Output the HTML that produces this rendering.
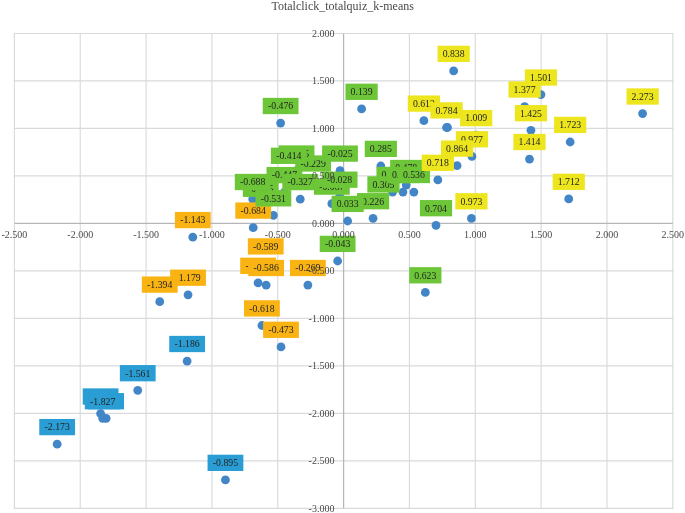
<!DOCTYPE html>
<html><head><meta charset="utf-8"><title>Totalclick_totalquiz_k-means</title>
<style>html,body{margin:0;padding:0;background:#fff;}svg{display:block;}text{font-family:"Liberation Serif","Times New Roman",serif;}</style></head><body>
<svg width="685" height="513" viewBox="0 0 685 513">
<rect x="0" y="0" width="685" height="513" fill="#ffffff"/>
<g stroke="#d8dadc" stroke-width="1.15" fill="none">
<line x1="14.40" y1="33.45" x2="14.40" y2="508.30"/>
<line x1="80.24" y1="33.45" x2="80.24" y2="508.30"/>
<line x1="146.08" y1="33.45" x2="146.08" y2="508.30"/>
<line x1="211.92" y1="33.45" x2="211.92" y2="508.30"/>
<line x1="277.76" y1="33.45" x2="277.76" y2="508.30"/>
<line x1="409.44" y1="33.45" x2="409.44" y2="508.30"/>
<line x1="475.28" y1="33.45" x2="475.28" y2="508.30"/>
<line x1="541.12" y1="33.45" x2="541.12" y2="508.30"/>
<line x1="606.96" y1="33.45" x2="606.96" y2="508.30"/>
<line x1="672.80" y1="33.45" x2="672.80" y2="508.30"/>
<line x1="13.80" y1="33.45" x2="673.40" y2="33.45"/>
<line x1="13.80" y1="80.94" x2="673.40" y2="80.94"/>
<line x1="13.80" y1="128.42" x2="673.40" y2="128.42"/>
<line x1="13.80" y1="175.91" x2="673.40" y2="175.91"/>
<line x1="13.80" y1="270.88" x2="673.40" y2="270.88"/>
<line x1="13.80" y1="318.36" x2="673.40" y2="318.36"/>
<line x1="13.80" y1="365.85" x2="673.40" y2="365.85"/>
<line x1="13.80" y1="413.33" x2="673.40" y2="413.33"/>
<line x1="13.80" y1="460.82" x2="673.40" y2="460.82"/>
<line x1="13.80" y1="508.30" x2="673.40" y2="508.30"/>
</g>
<g stroke="#b4b6b8" stroke-width="1.25" fill="none">
<line x1="343.60" y1="33.45" x2="343.60" y2="508.30"/>
<line x1="14.40" y1="223.40" x2="672.80" y2="223.40"/>
</g>
<g fill="#4386c7">
<circle cx="192.79" cy="237.20" r="4.4"/>
<circle cx="253.23" cy="227.70" r="4.4"/>
<circle cx="265.74" cy="263.50" r="4.4"/>
<circle cx="258.10" cy="282.90" r="4.4"/>
<circle cx="266.14" cy="285.10" r="4.4"/>
<circle cx="307.88" cy="285.10" r="4.4"/>
<circle cx="188.05" cy="294.80" r="4.4"/>
<circle cx="159.74" cy="301.70" r="4.4"/>
<circle cx="261.92" cy="325.50" r="4.4"/>
<circle cx="281.02" cy="346.90" r="4.4"/>
<circle cx="187.13" cy="361.10" r="4.4"/>
<circle cx="137.75" cy="390.30" r="4.4"/>
<circle cx="100.61" cy="413.60" r="4.4"/>
<circle cx="106.14" cy="418.30" r="4.4"/>
<circle cx="102.72" cy="418.30" r="4.4"/>
<circle cx="57.16" cy="444.20" r="4.4"/>
<circle cx="225.45" cy="479.95" r="4.4"/>
<circle cx="280.62" cy="123.10" r="4.4"/>
<circle cx="361.60" cy="108.90" r="4.4"/>
<circle cx="380.83" cy="166.00" r="4.4"/>
<circle cx="313.15" cy="180.60" r="4.4"/>
<circle cx="296.55" cy="170.60" r="4.4"/>
<circle cx="288.78" cy="172.90" r="4.4"/>
<circle cx="340.01" cy="170.70" r="4.4"/>
<circle cx="284.44" cy="192.20" r="4.4"/>
<circle cx="260.74" cy="205.90" r="4.4"/>
<circle cx="252.70" cy="199.10" r="4.4"/>
<circle cx="300.24" cy="199.20" r="4.4"/>
<circle cx="273.38" cy="215.40" r="4.4"/>
<circle cx="331.84" cy="203.70" r="4.4"/>
<circle cx="339.61" cy="196.80" r="4.4"/>
<circle cx="373.06" cy="218.30" r="4.4"/>
<circle cx="347.65" cy="221.00" r="4.4"/>
<circle cx="406.24" cy="185.10" r="4.4"/>
<circle cx="392.55" cy="192.10" r="4.4"/>
<circle cx="383.46" cy="201.50" r="4.4"/>
<circle cx="402.95" cy="192.10" r="4.4"/>
<circle cx="413.88" cy="192.10" r="4.4"/>
<circle cx="436.00" cy="225.30" r="4.4"/>
<circle cx="425.34" cy="292.40" r="4.4"/>
<circle cx="337.64" cy="261.00" r="4.4"/>
<circle cx="453.65" cy="70.95" r="4.4"/>
<circle cx="423.89" cy="120.70" r="4.4"/>
<circle cx="446.54" cy="127.50" r="4.4"/>
<circle cx="476.17" cy="135.20" r="4.4"/>
<circle cx="471.95" cy="156.40" r="4.4"/>
<circle cx="457.07" cy="165.70" r="4.4"/>
<circle cx="437.85" cy="179.90" r="4.4"/>
<circle cx="540.95" cy="94.60" r="4.4"/>
<circle cx="524.62" cy="106.60" r="4.4"/>
<circle cx="530.94" cy="130.30" r="4.4"/>
<circle cx="529.50" cy="159.10" r="4.4"/>
<circle cx="570.18" cy="142.00" r="4.4"/>
<circle cx="642.61" cy="113.60" r="4.4"/>
<circle cx="568.74" cy="198.90" r="4.4"/>
<circle cx="471.42" cy="218.40" r="4.4"/>
<circle cx="447.54" cy="127.50" r="4.4"/>
</g>
<g font-size="10.2" text-anchor="middle" fill="#222222">
<rect x="174.89" y="211.95" width="35.8" height="16.3" fill="#f9b313"/>
<text transform="translate(192.79 223.45) scale(0.96 1)">-1.143</text>
<rect x="235.33" y="202.45" width="35.8" height="16.3" fill="#f9b313"/>
<text transform="translate(253.23 213.95) scale(0.96 1)">-0.684</text>
<rect x="247.84" y="238.25" width="35.8" height="16.3" fill="#f9b313"/>
<text transform="translate(265.74 249.75) scale(0.96 1)">-0.589</text>
<rect x="240.20" y="257.65" width="35.8" height="16.3" fill="#f9b313"/>
<text transform="translate(258.10 269.15) scale(0.96 1)">-0.647</text>
<rect x="248.24" y="259.85" width="35.8" height="16.3" fill="#f9b313"/>
<text transform="translate(266.14 271.35) scale(0.96 1)">-0.586</text>
<rect x="289.98" y="259.85" width="35.8" height="16.3" fill="#f9b313"/>
<text transform="translate(307.88 271.35) scale(0.96 1)">-0.269</text>
<rect x="170.15" y="269.55" width="35.8" height="16.3" fill="#f9b313"/>
<text transform="translate(189.68 281.05) scale(0.96 1)">1.179</text>
<rect x="141.84" y="276.45" width="35.8" height="16.3" fill="#f9b313"/>
<text transform="translate(159.74 287.95) scale(0.96 1)">-1.394</text>
<rect x="244.02" y="300.25" width="35.8" height="16.3" fill="#f9b313"/>
<text transform="translate(261.92 311.75) scale(0.96 1)">-0.618</text>
<rect x="263.12" y="321.65" width="35.8" height="16.3" fill="#f9b313"/>
<text transform="translate(281.02 333.15) scale(0.96 1)">-0.473</text>
<rect x="169.23" y="335.85" width="35.8" height="16.3" fill="#2a9ed4"/>
<text transform="translate(187.13 347.35) scale(0.96 1)">-1.186</text>
<rect x="119.85" y="365.05" width="35.8" height="16.3" fill="#2a9ed4"/>
<text transform="translate(137.75 376.55) scale(0.96 1)">-1.561</text>
<rect x="82.71" y="388.35" width="35.8" height="16.3" fill="#2a9ed4"/>
<text transform="translate(100.61 399.85) scale(0.96 1)">-1.843</text>
<rect x="88.24" y="393.05" width="35.8" height="16.3" fill="#2a9ed4"/>
<text transform="translate(106.14 404.55) scale(0.96 1)">-1.801</text>
<rect x="84.82" y="393.05" width="35.8" height="16.3" fill="#2a9ed4"/>
<text transform="translate(102.72 404.55) scale(0.96 1)">-1.827</text>
<rect x="39.26" y="418.95" width="35.8" height="16.3" fill="#2a9ed4"/>
<text transform="translate(57.16 430.45) scale(0.96 1)">-2.173</text>
<rect x="207.55" y="454.70" width="35.8" height="16.3" fill="#2a9ed4"/>
<text transform="translate(225.45 466.20) scale(0.96 1)">-0.895</text>
<rect x="262.72" y="97.85" width="35.8" height="16.3" fill="#6cc638"/>
<text transform="translate(280.62 109.35) scale(0.96 1)">-0.476</text>
<rect x="345.50" y="83.65" width="32.2" height="16.3" fill="#6cc638"/>
<text transform="translate(361.60 95.15) scale(0.96 1)">0.139</text>
<rect x="364.73" y="140.75" width="32.2" height="16.3" fill="#6cc638"/>
<text transform="translate(380.83 152.25) scale(0.96 1)">0.285</text>
<rect x="295.25" y="155.35" width="35.8" height="16.3" fill="#6cc638"/>
<text transform="translate(313.15 166.85) scale(0.96 1)">-0.229</text>
<rect x="278.65" y="145.35" width="35.8" height="16.3" fill="#6cc638"/>
<text transform="translate(296.55 156.85) scale(0.96 1)">-0.355</text>
<rect x="270.88" y="147.65" width="35.8" height="16.3" fill="#6cc638"/>
<text transform="translate(288.78 159.15) scale(0.96 1)">-0.414</text>
<rect x="322.11" y="145.45" width="35.8" height="16.3" fill="#6cc638"/>
<text transform="translate(340.01 156.95) scale(0.96 1)">-0.025</text>
<rect x="266.54" y="166.95" width="35.8" height="16.3" fill="#6cc638"/>
<text transform="translate(284.44 178.45) scale(0.96 1)">-0.447</text>
<rect x="242.84" y="180.65" width="35.8" height="16.3" fill="#6cc638"/>
<text transform="translate(260.74 192.15) scale(0.96 1)">-0.625</text>
<rect x="234.80" y="173.85" width="35.8" height="16.3" fill="#6cc638"/>
<text transform="translate(252.70 185.35) scale(0.96 1)">-0.688</text>
<rect x="282.34" y="173.95" width="35.8" height="16.3" fill="#6cc638"/>
<text transform="translate(300.24 185.45) scale(0.96 1)">-0.327</text>
<rect x="255.48" y="190.15" width="35.8" height="16.3" fill="#6cc638"/>
<text transform="translate(273.38 201.65) scale(0.96 1)">-0.531</text>
<rect x="313.94" y="178.45" width="35.8" height="16.3" fill="#6cc638"/>
<text transform="translate(331.84 189.95) scale(0.96 1)">-0.087</text>
<rect x="321.71" y="171.55" width="35.8" height="16.3" fill="#6cc638"/>
<text transform="translate(339.61 183.05) scale(0.96 1)">-0.028</text>
<rect x="356.96" y="193.05" width="32.2" height="16.3" fill="#6cc638"/>
<text transform="translate(373.06 204.55) scale(0.96 1)">0.226</text>
<rect x="331.55" y="195.75" width="32.2" height="16.3" fill="#6cc638"/>
<text transform="translate(347.65 207.25) scale(0.96 1)">0.033</text>
<rect x="390.14" y="159.85" width="32.2" height="16.3" fill="#6cc638"/>
<text transform="translate(406.24 171.35) scale(0.96 1)">0.478</text>
<rect x="376.45" y="166.85" width="32.2" height="16.3" fill="#6cc638"/>
<text transform="translate(392.55 178.35) scale(0.96 1)">0.374</text>
<rect x="367.36" y="176.25" width="32.2" height="16.3" fill="#6cc638"/>
<text transform="translate(383.46 187.75) scale(0.96 1)">0.305</text>
<rect x="386.85" y="166.85" width="32.2" height="16.3" fill="#6cc638"/>
<text transform="translate(402.95 178.35) scale(0.96 1)">0.447</text>
<rect x="397.78" y="166.85" width="32.2" height="16.3" fill="#6cc638"/>
<text transform="translate(413.88 178.35) scale(0.96 1)">0.536</text>
<rect x="419.90" y="200.05" width="32.2" height="16.3" fill="#6cc638"/>
<text transform="translate(436.00 211.55) scale(0.96 1)">0.704</text>
<rect x="409.24" y="267.15" width="32.2" height="16.3" fill="#6cc638"/>
<text transform="translate(425.34 278.65) scale(0.96 1)">0.623</text>
<rect x="319.74" y="235.75" width="35.8" height="16.3" fill="#6cc638"/>
<text transform="translate(337.64 247.25) scale(0.96 1)">-0.043</text>
<rect x="437.55" y="45.70" width="32.2" height="16.3" fill="#ede61e"/>
<text transform="translate(453.65 57.20) scale(0.96 1)">0.838</text>
<rect x="407.79" y="95.45" width="32.2" height="16.3" fill="#ede61e"/>
<text transform="translate(423.89 106.95) scale(0.96 1)">0.612</text>
<rect x="430.44" y="102.25" width="32.2" height="16.3" fill="#ede61e"/>
<text transform="translate(446.54 113.75) scale(0.96 1)">0.784</text>
<rect x="460.07" y="109.95" width="32.2" height="16.3" fill="#ede61e"/>
<text transform="translate(476.17 121.45) scale(0.96 1)">1.009</text>
<rect x="455.85" y="131.15" width="32.2" height="16.3" fill="#ede61e"/>
<text transform="translate(471.95 142.65) scale(0.96 1)">0.977</text>
<rect x="440.97" y="140.45" width="32.2" height="16.3" fill="#ede61e"/>
<text transform="translate(457.07 151.95) scale(0.96 1)">0.864</text>
<rect x="421.75" y="154.65" width="32.2" height="16.3" fill="#ede61e"/>
<text transform="translate(437.85 166.15) scale(0.96 1)">0.718</text>
<rect x="524.85" y="69.35" width="32.2" height="16.3" fill="#ede61e"/>
<text transform="translate(540.95 80.85) scale(0.96 1)">1.501</text>
<rect x="508.52" y="81.35" width="32.2" height="16.3" fill="#ede61e"/>
<text transform="translate(524.62 92.85) scale(0.96 1)">1.377</text>
<rect x="514.84" y="105.05" width="32.2" height="16.3" fill="#ede61e"/>
<text transform="translate(530.94 116.55) scale(0.96 1)">1.425</text>
<rect x="513.40" y="133.85" width="32.2" height="16.3" fill="#ede61e"/>
<text transform="translate(529.50 145.35) scale(0.96 1)">1.414</text>
<rect x="554.08" y="116.75" width="32.2" height="16.3" fill="#ede61e"/>
<text transform="translate(570.18 128.25) scale(0.96 1)">1.723</text>
<rect x="626.51" y="88.35" width="32.2" height="16.3" fill="#ede61e"/>
<text transform="translate(642.61 99.85) scale(0.96 1)">2.273</text>
<rect x="552.64" y="173.65" width="32.2" height="16.3" fill="#ede61e"/>
<text transform="translate(568.74 185.15) scale(0.96 1)">1.712</text>
<rect x="455.32" y="193.15" width="32.2" height="16.3" fill="#ede61e"/>
<text transform="translate(471.42 204.65) scale(0.96 1)">0.973</text>
</g>
<g font-size="10.0" fill="#4a4a4a">
<text x="14.40" y="237.90" text-anchor="middle">-2.500</text>
<text x="80.24" y="237.90" text-anchor="middle">-2.000</text>
<text x="146.08" y="237.90" text-anchor="middle">-1.500</text>
<text x="211.92" y="237.90" text-anchor="middle">-1.000</text>
<text x="277.76" y="237.90" text-anchor="middle">-0.500</text>
<text x="343.60" y="237.90" text-anchor="middle">0.000</text>
<text x="409.44" y="237.90" text-anchor="middle">0.500</text>
<text x="475.28" y="237.90" text-anchor="middle">1.000</text>
<text x="541.12" y="237.90" text-anchor="middle">1.500</text>
<text x="606.96" y="237.90" text-anchor="middle">2.000</text>
<text x="672.80" y="237.90" text-anchor="middle">2.500</text>
<text x="334.4" y="36.75" text-anchor="end">2.000</text>
<text x="334.4" y="84.23" text-anchor="end">1.500</text>
<text x="334.4" y="131.72" text-anchor="end">1.000</text>
<text x="334.4" y="179.21" text-anchor="end">0.500</text>
<text x="334.4" y="226.69" text-anchor="end">0.000</text>
<text x="334.4" y="274.18" text-anchor="end">-0.500</text>
<text x="334.4" y="321.66" text-anchor="end">-1.000</text>
<text x="334.4" y="369.15" text-anchor="end">-1.500</text>
<text x="334.4" y="416.63" text-anchor="end">-2.000</text>
<text x="334.4" y="464.12" text-anchor="end">-2.500</text>
<text x="334.4" y="511.60" text-anchor="end">-3.000</text>
</g>
<text x="342.7" y="9.6" font-size="12" text-anchor="middle" fill="#4a4a4a">Totalclick_totalquiz_k-means</text>
</svg></body></html>
